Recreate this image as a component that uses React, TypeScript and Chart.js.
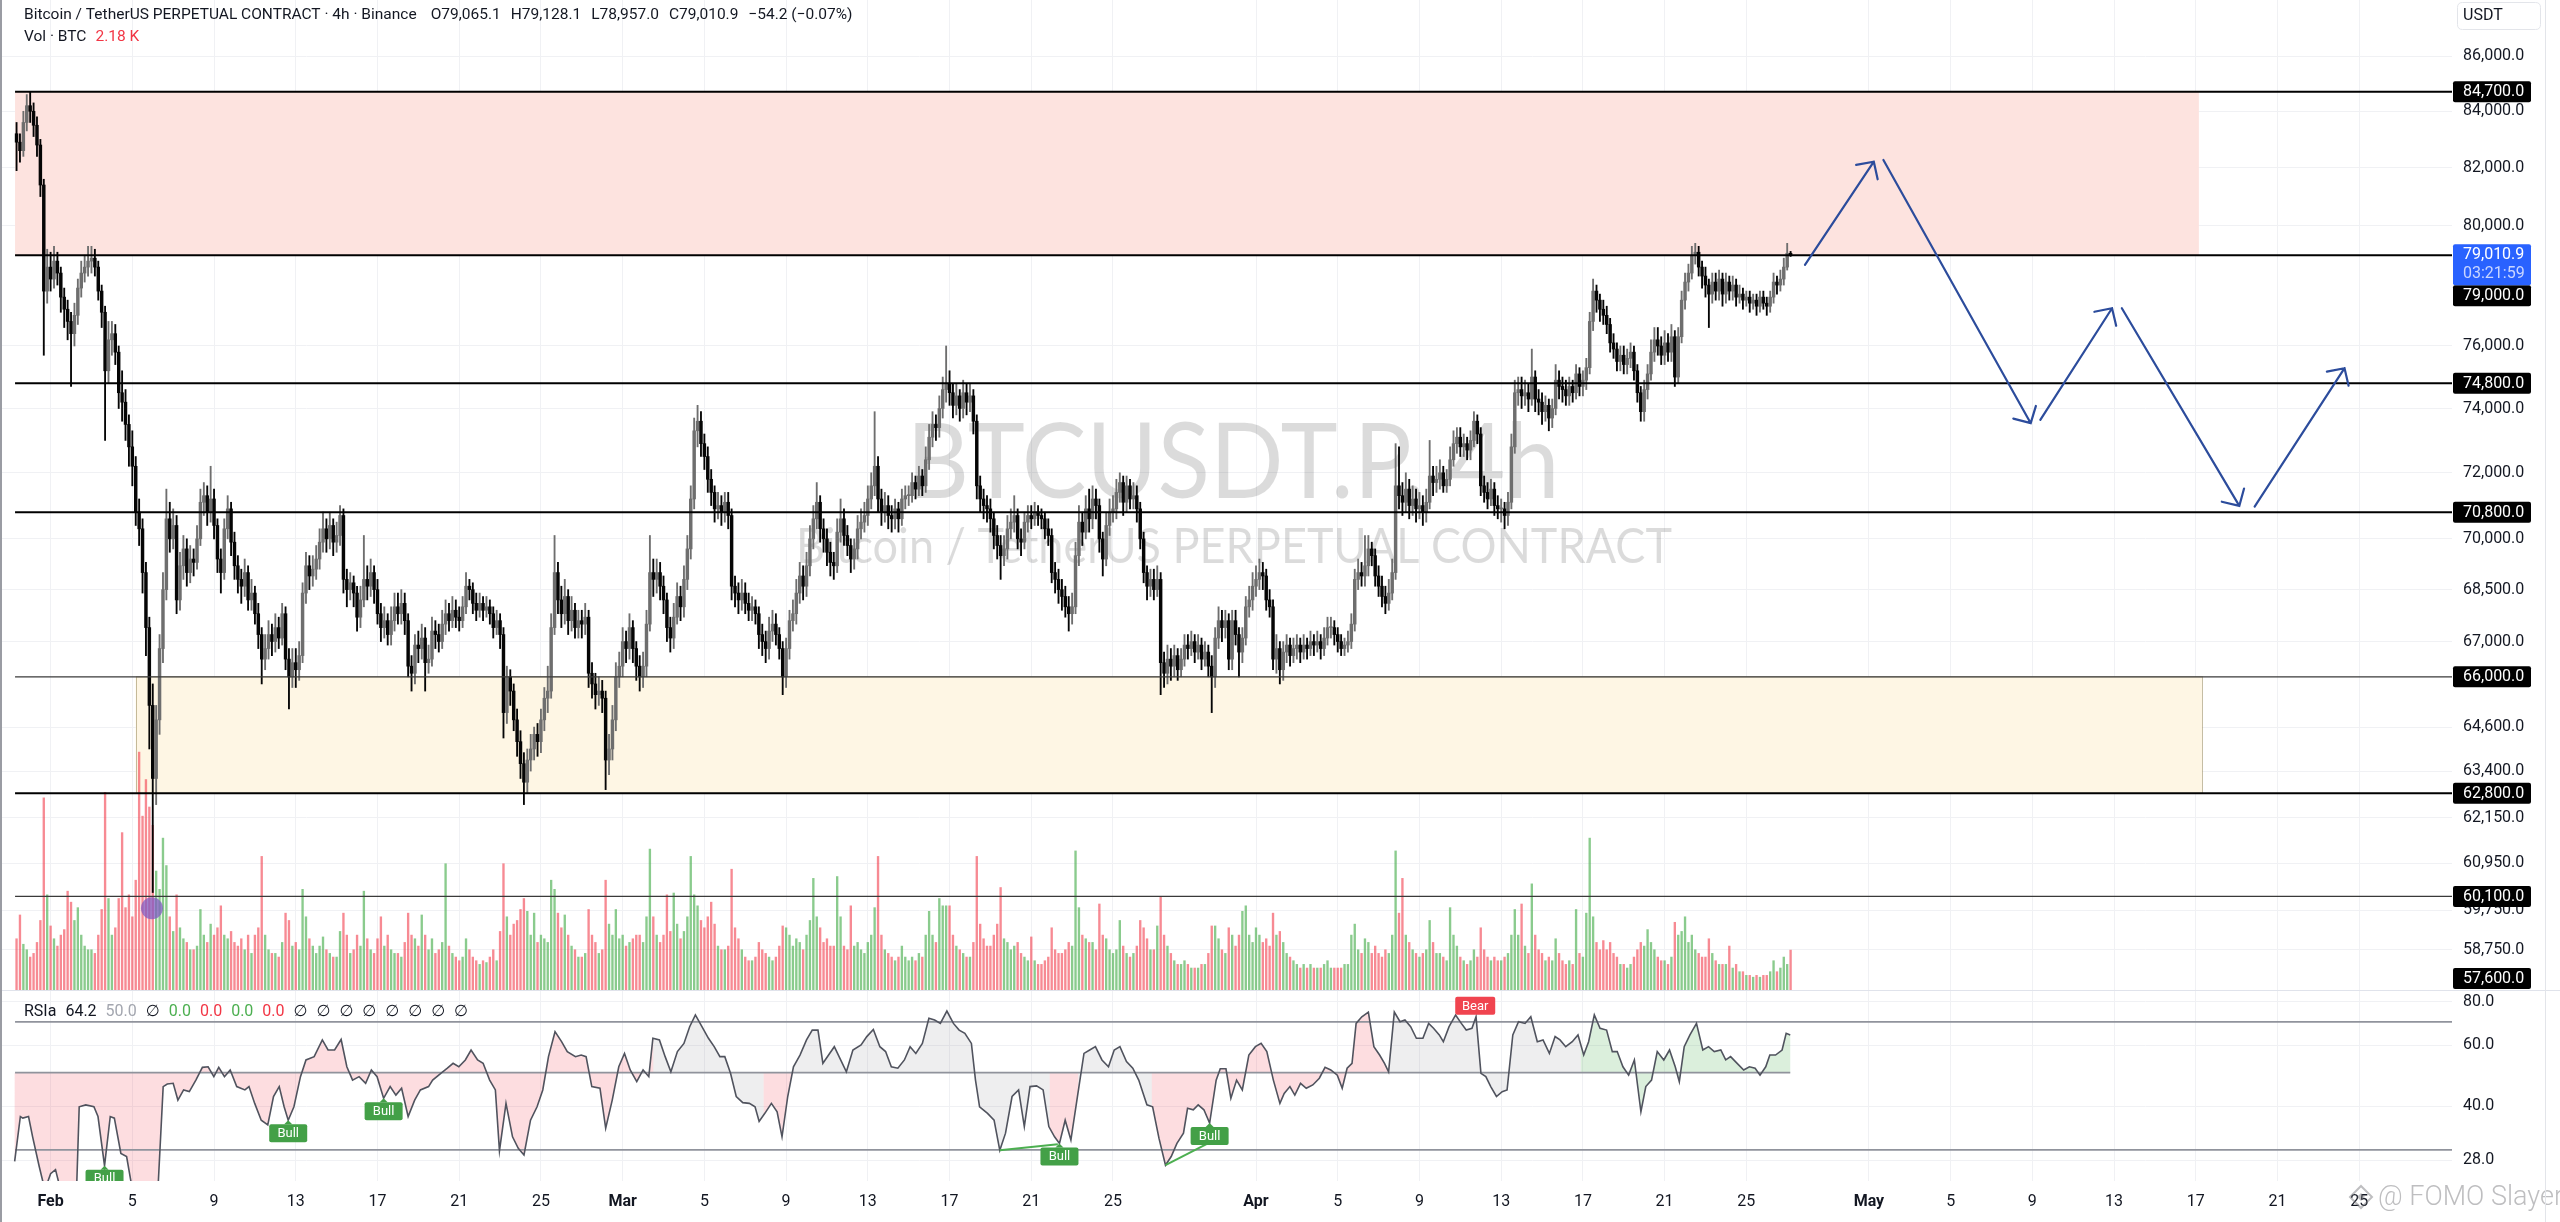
import React, { useEffect, useRef } from 'react';
import { Chart, registerables } from 'chart.js';
Chart.register(...registerables);

// ---------------- DATA ----------------
// 4h candles, prices in hundreds of USDT. Row 0 = Jan 30 (from 08:00), last row = Apr 27.
const FIRST_ROW_DAY = -2; // days relative to Feb 1 00:00
const FIRST_ROW_START_HOUR = 8;
const FIRST_OPEN = 832;

const CLOSES = [
  "829 826 836 842",
  "840 835 828 814 778 786",
  "782 788 784 776 772 768", "764 770 779 784 786 788", "789 786 778 771 752 762", "764 758 745 742 735 728",
  "722 708 703 690 674 652", "632 648 668 685 706 700", "704 682 692 697 690 694", "693 700 711 713 708 712",
  "704 694 690 703 709 699", "692 688 686 690 682 684", "678 672 665 668 672 670", "674 671 678 665 660 664",
  "662 666 684 692 689 691", "694 699 703 700 704 699", "701 707 688 685 687 684", "677 682 688 686 690 685",
  "678 674 676 672 676 680", "678 681 676 663 661 669", "668 671 664 665 673 672", "670 675 678 676 679 677",
  "676 680 686 685 681 679", "681 679 680 678 674 676", "672 650 660 656 648 642", "636 631 637 640 644 642",
  "648 654 656 674 690 682", "678 683 676 679 674 676", "675 677 661 658 655 656", "654 637 640 648 660 663",
  "670 668 674 668 663 660", "663 675 690 688 690 686", "682 674 671 677 683 680", "688 697 712 733 736 729",
  "725 718 714 709 710 708", "711 707 686 684 682 684", "681 679 680 678 672 670", "668 673 675 672 668 660",
  "668 676 678 684 689 686", "692 700 706 711 703 700", "696 693 692 702 706 701", "698 694 697 703 705 707",
  "712 716 722 712 708 710", "707 706 709 706 712 713", "713 717 715 719 716 724", "731 735 734 740 746 748",
  "745 741 744 740 745 742", "744 736 716 712 710 709", "706 701 698 695 697 703", "705 707 700 699 705 707",
  "706 708 707 706 703 701", "690 688 685 683 680 678", "680 695 705 702 709 706", "712 710 700 694 704 708",
  "709 714 717 711 716 712", "713 709 700 690 686 688", "685 688 664 661 665 663", "666 662 665 669 668 670",
  "667 669 665 667 663 660", "671 676 674 676 665 676", "672 667 671 680 682 686",
  "688 690 689 682 680 665", "668 662 667 669 666 668", "669 667 669 668 670 669", "670 668 671 674 674 672",
  "670 668 669 670 675 688", "690 689 692 697 695 689", "686 683 681 684 690 716", "713 711 715 710 712 709",
  "710 708 711 719 717 718", "720 716 718 724 729 731", "728 729 727 730 736 732", "716 714 712 715 710 709",
  "709 707 711 728 745 746", "744 745 743 750 743 742", "739 741 737 740 749 747", "746 744 747 745 751 747",
  "749 753 768 778 775 772", "770 767 761 759 755 757", "754 756 758 752 745 739", "746 751 758 762 760 757",
  "761 758 763 750 763 775", "781 784 790 791 786 783", "780 777 781 778 782 777", "781 778 780 776 777 775",
  "776 774 775 773 776 774", "773 776 781 780 782 786",
  "790.651 790.109",
];

const HIGHS = [
  "836 832 840 846",
  "847 843 838 830 816 792",
  "791 793 791 786 779 775", "771 774 782 788 790 793", "793 792 788 780 773 768", "768 767 760 752 746 738",
  "733 725 712 706 693 677", "658 652 672 690 715 711", "709 707 696 701 700 698", "697 704 715 717 716 722",
  "715 706 697 706 713 711", "702 695 691 694 692 688", "686 681 674 672 676 675", "678 677 681 680 668 668",
  "668 670 687 696 695 695", "698 703 708 706 708 706", "705 710 709 691 690 689", "686 686 701 692 694 692",
  "688 681 680 678 680 684", "684 685 684 678 666 672", "673 675 674 669 677 676", "675 679 682 681 683 682",
  "680 683 690 688 687 684", "684 683 683 682 680 679", "678 674 663 662 658 651", "645 639 640 644 646 647",
  "651 657 663 678 701 693", "686 688 685 683 681 679", "679 681 679 664 661 660", "659 656 644 652 664 667",
  "674 673 678 676 670 666", "667 679 701 694 694 693", "689 684 677 681 687 686", "692 701 716 737 741 739",
  "732 728 721 716 714 713", "714 714 709 689 687 688", "687 684 683 682 680 675", "673 677 679 678 674 670",
  "671 679 682 688 693 692", "696 704 710 717 713 706", "703 699 696 706 712 709", "704 700 700 707 709 711",
  "716 720 739 725 715 714", "713 710 712 711 715 716", "716 720 719 722 721 728", "735 739 738 744 750 760",
  "752 748 748 746 749 748", "748 746 738 719 715 713", "712 708 704 701 701 707", "709 713 709 703 708 710",
  "710 711 710 709 708 706", "703 693 691 688 686 683", "684 699 710 708 713 715", "716 715 712 702 708 712",
  "713 718 720 719 719 718", "717 716 711 702 692 691", "691 692 690 667 669 668", "669 668 668 672 672 673",
  "672 672 671 670 669 666", "674 680 679 679 678 679", "679 674 674 683 686 690",
  "692 694 693 691 685 682", "672 670 670 672 671 671", "672 671 672 671 673 672", "673 672 674 677 677 676",
  "674 672 671 673 678 691", "694 693 701 701 699 697", "692 689 686 688 694 729", "728 717 720 718 716 715",
  "714 713 715 730 722 722", "724 722 721 728 733 734", "734 732 731 733 739 738", "734 719 717 718 717 713",
  "712 711 714 732 749 750", "750 749 748 759 752 746", "745 744 743 743 754 752", "750 749 750 749 754 753",
  "752 756 771 782 780 777", "775 773 769 764 761 760", "760 759 761 760 754 747", "749 754 762 766 766 763",
  "765 764 767 765 766 778", "784 787 793 794 793 788", "786 782 784 784 785 784", "784 783 783 782 780 779",
  "778 778 777 777 778 778", "776 778 784 783 785 789",
  "794 791.281",
];

const LOWS = [
  "819 822 824 833",
  "836 831 824 810 757 774",
  "778 779 780 771 766 762", "747 760 767 776 781 783", "784 783 775 766 730 748", "757 754 740 736 730 722",
  "716 704 698 684 666 640", "602 625 644 664 682 696", "697 678 679 688 686 687", "689 691 698 707 704 705",
  "700 690 684 688 700 695", "688 684 681 683 679 679", "675 668 658 662 665 666", "667 668 669 662 651 657",
  "657 659 664 681 685 686", "688 691 696 696 697 695", "696 698 684 680 682 680", "673 674 680 682 683 681",
  "675 670 671 669 669 673", "675 675 672 660 656 658", "664 665 656 661 663 668", "667 668 672 673 674 674",
  "673 674 678 682 678 676", "677 676 677 675 671 672", "668 643 647 652 645 638", "632 625 628 634 637 638",
  "639 645 650 654 672 678", "674 675 672 673 671 671", "671 672 657 654 651 652", "650 629 633 637 645 657",
  "660 664 665 664 659 656", "657 660 673 683 684 682", "678 670 667 668 675 676", "677 685 694 709 728 725",
  "721 714 710 705 706 704", "705 703 682 680 678 679", "678 676 676 675 668 666", "664 665 670 669 665 655",
  "657 665 673 675 681 682", "683 689 697 703 699 696", "692 689 688 690 699 698", "695 690 691 694 700 702",
  "704 709 713 708 704 705", "703 702 703 702 704 709", "710 711 712 713 713 714", "721 728 730 731 737 742",
  "741 737 738 736 737 738", "739 732 712 708 706 705", "702 697 694 688 692 694", "700 702 697 695 697 702",
  "703 704 704 703 700 698", "687 684 681 679 677 673", "675 678 692 698 700 702", "703 706 696 689 692 701",
  "705 706 711 707 708 709", "709 705 697 687 682 683", "682 683 655 657 658 659", "660 659 660 663 665 666",
  "664 665 662 663 660 650", "657 668 670 671 662 662", "669 660 664 669 677 679",
  "683 685 685 679 677 662", "661 658 659 664 663 664", "665 664 665 665 666 666", "667 665 666 669 671 669",
  "667 666 666 667 668 673", "685 686 686 689 692 686", "683 680 678 679 682 688", "709 707 708 706 707 705",
  "706 704 705 709 713 714", "715 714 714 716 722 726", "725 725 724 724 728 729", "713 711 709 710 707 706",
  "705 703 704 709 726 741", "740 741 739 741 739 738", "735 736 733 734 738 743", "742 741 741 742 743 744",
  "744 746 751 765 771 768", "767 764 758 756 752 752", "751 751 753 749 742 736", "736 743 749 755 757 754",
  "754 755 755 747 748 761", "772 778 782 787 783 779", "776 766 774 775 775 773", "774 775 775 773 774 772",
  "773 771 772 770 771 772", "770 771 774 777 778 780",
  "785 789.57",
];

// volume per candle, in 0.1K BTC
const VOLUMES = [
  "28 41 25 22",
  "18 20 26 38 105 52",
  "35 28 24 30 33 54", "48 38 45 30 24 22", "22 20 30 44 108 50", "30 34 50 86 45 52",
  "40 60 130 95 115 100", "90 65 55 83 68 40", "32 52 34 28 26 22", "22 24 44 30 26 36",
  "30 34 46 30 28 32", "26 24 28 22 30 20", "30 34 73 30 22 20", "20 18 26 42 38 24",
  "26 22 55 40 28 24", "20 24 29 22 20 18", "18 32 42 30 20 22", "30 24 54 28 22 20",
  "28 40 24 30 22 20", "20 18 26 42 30 28", "24 41 30 22 28 20", "22 26 69 24 20 18",
  "16 18 28 22 18 16", "14 16 15 18 22 16", "32 69 40 30 36 38", "44 50 43 30 42 26",
  "30 28 26 60 55 42", "34 41 30 24 22 18", "18 20 44 30 26 20", "22 60 36 30 44 28",
  "30 24 26 28 30 30", "26 40 77 40 30 26", "30 52 32 53 36 28", "32 40 73 52 46 38",
  "34 40 48 36 24 22", "22 24 66 34 28 22", "18 16 16 18 26 22", "20 18 16 18 24 35",
  "34 30 24 28 26 22", "30 38 61 40 34 26", "28 24 24 62 40 24", "22 46 24 26 22 20",
  "26 30 45 73 30 22", "20 18 16 18 24 18", "16 18 16 20 18 30", "43 30 26 50 46 46",
  "46 30 24 22 20 18", "18 26 73 36 28 24", "24 30 36 56 28 26", "22 24 26 20 18 16",
  "29 16 14 14 16 18", "34 22 20 20 22 26", "24 76 45 30 28 26", "26 22 47 30 28 22",
  "20 22 38 24 20 18", "20 24 38 34 28 22", "22 35 51 30 24 20", "16 14 14 16 14 12",
  "12 12 14 14 20 35", "35 28 22 20 34 30", "24 30 43 46 30 26",
  "34 30 26 28 24 42", "30 32 26 20 18 16", "14 12 14 12 14 12", "12 12 14 16 12 12",
  "12 12 14 14 30 36", "22 20 28 26 20 24", "20 18 22 20 30 76", "42 61 30 26 22 20",
  "18 20 22 38 26 20", "20 18 16 45 30 24", "18 16 14 16 22 18", "34 22 18 16 18 16",
  "16 18 20 30 44 30", "47 24 20 58 30 22", "20 16 18 16 28 20", "16 14 16 14 44 20",
  "18 42 83 40 26 22", "27 22 26 20 18 14", "14 12 14 18 22 26", "24 33 26 22 18 16",
  "16 14 18 37 30 32", "40 26 30 22 20 18", "18 28 20 16 14 14", "14 24 12 14 10 10",
  "8 8 7 8 7 8", "8 10 16 10 12 18",
  "14 21.8",
];

// RSI line readings: [day, value]
const RSI_POINTS: number[][] = [
  [-1.76,27.8],[-1.48,37.4],[-1.36,37.0],[-1.08,37.4],[-0.88,32.7],[-0.56,26.9],[-0.28,23.0],[0.0,25.6],[0.24,26.3],
  [0.45,23.5],[0.7,19.5],[1.0,18.0],[1.25,21.0],[1.4,39.9],[1.72,40.4],[2.12,39.9],[2.32,37.4],[2.64,27.0],[2.92,37.4],
  [3.12,37.0],[3.44,29.3],[3.72,28.7],[3.95,24.0],[4.2,21.0],[4.5,17.5],[4.8,14.0],[5.0,13.5],[5.2,20.0],[5.51,45.6],
  [5.71,46.4],[6.0,46.6],[6.23,41.7],[6.51,44.6],[6.79,44.1],[7.11,47.6],[7.43,51.8],[7.71,52.0],[7.99,48.7],[8.23,51.8],
  [8.51,48.7],[8.79,50.9],[9.11,45.6],[9.51,44.6],[9.71,45.6],[9.99,40.8],[10.31,36.5],[10.63,35.4],[10.91,42.7],
  [11.19,45.6],[11.43,39.9],[11.63,36.5],[11.91,39.9],[12.23,48.7],[12.5,54.4],[12.9,55.6],[13.3,62.1],[13.58,58.1],
  [13.9,58.1],[14.22,62.3],[14.5,52.0],[14.78,47.6],[15.1,48.7],[15.42,46.6],[15.7,50.9],[15.98,48.7],[16.3,42.2],
  [16.62,45.6],[16.9,43.1],[17.18,45.1],[17.5,37.4],[17.82,41.7],[18.1,44.6],[18.5,45.6],[18.7,47.6],[19.1,49.8],
  [19.42,51.5],[19.7,53.2],[19.98,52.0],[20.3,54.4],[20.58,58.1],[20.9,54.4],[21.17,53.2],[21.49,47.6],[21.77,44.6],
  [21.97,29.8],[22.29,40.8],[22.61,32.7],[22.89,30.3],[23.17,29.0],[23.49,36.5],[23.81,39.9],[24.09,44.6],[24.37,55.6],
  [24.69,65.6],[25.01,61.4],[25.29,57.5],[25.69,55.6],[25.97,56.2],[26.21,55.6],[26.49,45.6],[26.89,45.1],[27.17,34.6],
  [27.49,41.7],[27.81,52.0],[28.09,56.8],[28.37,50.9],[28.69,47.1],[29.0,50.9],[29.28,48.7],[29.48,62.8],[29.8,62.1],
  [30.08,55.6],[30.36,50.3],[30.68,57.5],[31.0,60.7],[31.28,67.8],[31.56,73.3],[31.88,67.8],[32.2,62.8],[32.48,59.4],
  [32.76,55.6],[33.0,55.6],[33.28,49.8],[33.56,42.7],[33.88,41.0],[34.2,40.8],[34.48,39.9],[34.68,36.2],[34.96,38.2],
  [35.28,40.8],[35.56,38.6],[35.8,32.7],[36.08,42.7],[36.36,52.0],[36.68,56.2],[37.0,62.1],[37.28,66.3],[37.56,66.3],
  [37.8,53.2],[38.08,56.2],[38.36,59.4],[38.67,54.4],[38.95,50.3],[39.27,58.1],[39.67,60.1],[39.95,63.5],[40.27,66.6],
  [40.59,59.4],[40.87,57.5],[41.15,52.0],[41.47,51.5],[41.79,54.4],[42.07,59.4],[42.35,56.8],[42.67,60.7],[42.99,71.7],
  [43.27,70.9],[43.55,69.3],[43.87,75.2],[44.19,69.3],[44.47,66.3],[44.75,64.9],[45.07,60.7],[45.27,47.6],[45.47,39.9],
  [45.86,38.2],[46.18,36.5],[46.46,29.9],[46.74,33.5],[47.06,42.7],[47.38,44.6],[47.66,35.0],[47.94,45.6],[48.26,45.8],
  [48.58,44.6],[48.86,35.0],[49.14,32.7],[49.38,31.3],[49.66,36.5],[49.94,32.0],[50.26,42.7],[50.58,56.8],[50.86,58.1],
  [51.14,59.4],[51.46,54.4],[51.78,52.0],[52.06,58.1],[52.34,59.4],[52.66,53.8],[52.97,51.5],[53.26,47.6],[53.66,40.4],
  [53.94,39.9],[54.25,32.4],[54.57,27.1],[54.85,28.7],[55.13,31.3],[55.45,33.5],[55.65,39.5],[55.93,39.1],[56.17,40.4],
  [56.45,39.1],[56.73,35.8],[57.05,47.6],[57.25,51.3],[57.53,51.3],[57.77,42.2],[58.05,47.6],[58.33,44.6],[58.65,56.2],
  [58.97,59.4],[59.25,60.7],[59.53,57.5],[59.85,47.6],[60.17,40.8],[60.38,43.6],[60.66,45.6],[60.9,43.1],[61.18,46.6],
  [61.46,45.1],[61.78,46.1],[62.1,48.2],[62.38,51.8],[62.66,50.9],[62.98,49.2],[63.22,45.1],[63.46,51.5],[63.7,53.2],
  [63.9,69.3],[64.18,72.4],[64.5,74.7],[64.77,59.4],[65.05,56.2],[65.29,53.2],[65.49,50.3],[65.77,74.7],[66.05,70.1],
  [66.29,70.9],[66.57,67.8],[66.85,62.8],[67.17,62.8],[67.45,69.3],[67.69,67.1],[67.97,64.2],[68.17,61.4],[68.45,67.8],
  [68.77,73.3],[69.05,69.3],[69.29,66.3],[69.57,67.1],[69.77,72.4],[70.01,49.8],[70.25,48.7],[70.49,45.6],[70.77,42.7],
  [71.05,44.1],[71.29,44.6],[71.57,64.2],[71.85,70.1],[72.17,69.3],[72.45,72.4],[72.77,61.4],[73.05,62.1],[73.36,56.8],
  [73.64,63.5],[73.88,62.1],[74.16,59.4],[74.48,61.4],[74.76,64.2],[75.04,56.2],[75.28,61.4],[75.56,73.3],[75.84,67.1],
  [76.16,66.3],[76.44,57.5],[76.68,57.5],[76.96,52.0],[77.24,49.2],[77.52,54.4],[77.84,38.6],[78.08,45.6],[78.36,47.6],
  [78.64,57.5],[78.96,54.4],[79.24,58.1],[79.52,52.0],[79.72,47.1],[79.96,59.4],[80.24,64.2],[80.56,69.3],[80.87,58.1],
  [81.15,59.4],[81.43,57.5],[81.75,58.1],[81.99,54.4],[82.23,55.6],[82.55,53.2],[82.87,50.9],[83.15,52.0],[83.43,51.5],
  [83.67,49.2],[83.95,52.0],[84.15,56.2],[84.43,56.2],[84.75,58.1],[84.95,64.9],[85.15,64.2],
];

// RSI fill regimes (between RSI and the 50 line)
const REGIME_FROM = [-1.8, 29.5, 34.9, 36.3, 48.9, 50.3, 53.9, 65.5, 74.9];
const REGIME_TO = [29.5, 34.9, 36.3, 48.9, 50.3, 53.9, 65.5, 74.9, 85.3];
const REGIME_KIND = ['bear', 'neutral', 'bear', 'neutral', 'bear', 'neutral', 'bear', 'neutral', 'bull'];
const RSI_LEVELS = [70, 50, 30];

const BULL_DAYS = [2.64, 11.63, 16.3, 49.38, 56.73];
const BULL_VALUES = [27.0, 36.5, 42.2, 31.3, 35.8];
const BEAR_DAYS = [69.73];
const BEAR_VALUES = [72.4];
const DIV_FROM_DAYS = [46.46, 54.57];
const DIV_FROM_VALUES = [29.9, 27.1];
const DIV_TO_DAYS = [49.3, 56.6];
const DIV_TO_VALUES = [31.1, 31.2];

// horizontal levels drawn on the price pane
const LEVELS = [84700, 79000, 74800, 70800, 66000, 62800, 60100];
const THIN_LEVELS = [66000, 60100];
const AXIS_MARKS = [84700, 79000, 74800, 70800, 66000, 62800, 60100, 57600];
const LEVEL_FROM_DAY = -1.74;

// zones
const ZONE_FROM = [-1.74, 4.166];
const ZONE_TO = [105.15, 105.3];
const ZONE_TOP = [84700, 66000];
const ZONE_BOTTOM = [79000, 62800];

// projection arrows
const ARROW_FROM_DAYS = [85.87, 89.71, 97.39, 101.38, 107.88];
const ARROW_FROM_PRICES = [78672, 82273, 73642, 77233, 70970];
const ARROW_TO_DAYS = [89.24, 96.92, 100.9, 107.13, 112.28];
const ARROW_TO_PRICES = [82213, 73539, 77233, 70991, 75284];

const MARKER_DAY = 4.96;
const MARKER_PRICE = 59800;

const PRICE_TICKS = [86000, 84000, 82000, 80000, 76000, 74000, 72000, 70000, 68500, 67000, 64600, 63400, 62150, 60950, 59750, 58750];
const RSI_TICKS = [80, 60, 40, 28];
const TICK_DAYS = [0, 4, 8, 12, 16, 20, 24, 28, 32, 36, 40, 44, 48, 52, 59, 63, 67, 71, 75, 79, 83, 89, 93, 97, 101, 105, 109, 113];
const TICK_LABELS = ['Feb', '5', '9', '13', '17', '21', '25', 'Mar', '5', '9', '13', '17', '21', '25', 'Apr', '5', '9', '13', '17', '21', '25', 'May', '5', '9', '13', '17', '21', '25'];
const MONTHS = ['Feb', 'Mar', 'Apr', 'May'];

const HEADER_TITLE = 'Bitcoin / TetherUS PERPETUAL CONTRACT · 4h · Binance';
const HEADER_OHLC = ['O79,065.1', 'H79,128.1', 'L78,957.0', 'C79,010.9', '−54.2 (−0.07%)'];
const VOL_TITLE = 'Vol · BTC';
const VOL_VALUE = '2.18 K';
const LAST_PRICE = 79010.9;
const COUNTDOWN = '03:21:59';
const RSI_LEGEND = ['RSIa', '64.2', '50.0', '∅', '0.0', '0.0', '0.0', '0.0', '∅', '∅', '∅', '∅', '∅', '∅', '∅', '∅'];
const RSI_LEGEND_KIND = ['t', 't', 'g', 't', 'up', 'dn', 'up', 'dn', 't', 't', 't', 't', 't', 't', 't', 't'];
const WATERMARK_1 = 'BTCUSDT.P, 4h';
const WATERMARK_2 = 'Bitcoin / TetherUS PERPETUAL CONTRACT';
const CREDIT = '@ FOMO Slayer';

// ---------------- LAYOUT / STYLE ----------------
const W = 2560;
const H_PRICE = 990;
const H_RSI = 232;
const AXIS_W = 108;
const X_MIN = -2.4768;
const X_MAX = 117.54;
const P_MIN = 57749;
const P_MAX = 88082;
const R_MIN = 24.4;
const R_MAX = 86.46;
const FONT = "Roboto, 'DejaVu Sans', sans-serif";
const TEXT = '#131722';
const GRID = '#f0f1f4';
const UP = '#6e6e6e';
const DOWN = '#050505';

type Candle = { t: number; o: number; h: number; l: number; c: number; v: number };

function buildCandles(): Candle[] {
  const out: Candle[] = [];
  let prev = FIRST_OPEN * 100;
  CLOSES.forEach((row, r) => {
    const cs = row.split(' ').map(Number);
    const hs = HIGHS[r].split(' ').map(Number);
    const ls = LOWS[r].split(' ').map(Number);
    const vs = VOLUMES[r].split(' ').map(Number);
    const startHour = r === 0 ? FIRST_ROW_START_HOUR : 0;
    cs.forEach((c, j) => {
      const t = FIRST_ROW_DAY + r + (startHour + 4 * j) / 24;
      const o = prev;
      const close = c * 100;
      const h = Math.max(hs[j] * 100, o, close);
      const l = Math.min(ls[j] * 100, o, close);
      out.push({ t, o, h, l, c: close, v: vs[j] / 10 });
      prev = close;
    });
  });
  return out;
}

const fmtPrice = (v: number) => v.toLocaleString('en-US', { minimumFractionDigits: 1, maximumFractionDigits: 1 });
const labelFor = (v: number) => {
  const i = TICK_DAYS.indexOf(v);
  return i >= 0 ? TICK_LABELS[i] : '';
};

function roundRect(ctx: CanvasRenderingContext2D, x: number, y: number, w: number, h: number, r: number) {
  ctx.beginPath();
  ctx.moveTo(x + r, y);
  ctx.lineTo(x + w - r, y);
  ctx.quadraticCurveTo(x + w, y, x + w, y + r);
  ctx.lineTo(x + w, y + h - r);
  ctx.quadraticCurveTo(x + w, y + h, x + w - r, y + h);
  ctx.lineTo(x + r, y + h);
  ctx.quadraticCurveTo(x, y + h, x, y + h - r);
  ctx.lineTo(x, y + r);
  ctx.quadraticCurveTo(x, y, x + r, y);
  ctx.closePath();
}

function drawFitted(ctx: CanvasRenderingContext2D, text: string, font: string, cx: number, by: number, width: number) {
  ctx.font = font;
  const w = ctx.measureText(text).width;
  ctx.save();
  ctx.translate(cx, by);
  ctx.scale(width / w, 1);
  ctx.textAlign = 'center';
  ctx.textBaseline = 'alphabetic';
  ctx.fillText(text, 0, 0);
  ctx.restore();
}

function drawArrow(ctx: CanvasRenderingContext2D, x0: number, y0: number, x1: number, y1: number) {
  const ang = Math.atan2(y1 - y0, x1 - x0);
  const len = 18;
  const spread = (46 * Math.PI) / 180;
  ctx.beginPath();
  ctx.moveTo(x0, y0);
  ctx.lineTo(x1, y1);
  ctx.moveTo(x1 - len * Math.cos(ang - spread), y1 - len * Math.sin(ang - spread));
  ctx.lineTo(x1, y1);
  ctx.lineTo(x1 - len * Math.cos(ang + spread), y1 - len * Math.sin(ang + spread));
  ctx.stroke();
}

function drawBorders(ctx: CanvasRenderingContext2D, h: number) {
  ctx.save();
  ctx.fillStyle = '#9a9ca3';
  ctx.fillRect(0, 0, 2, h);
  ctx.fillStyle = '#e3e5ea';
  ctx.fillRect(2545, 0, 1, h);
  ctx.restore();
}

const xScale = (showTicks: boolean) => ({
  type: 'linear',
  min: X_MIN,
  max: X_MAX,
  bounds: 'data',
  offset: false,
  afterBuildTicks: (s: any) => { s.ticks = TICK_DAYS.map((v) => ({ value: v })); },
  grid: { color: GRID, drawTicks: false, lineWidth: 1, offset: false },
  border: { display: false },
  ticks: {
    display: showTicks,
    autoSkip: false,
    maxRotation: 0,
    padding: 11,
    color: TEXT,
    callback: (v: any) => labelFor(Number(v)),
    font: (c: any) => ({ family: FONT, size: 16, weight: MONTHS.includes(labelFor(c.tick ? c.tick.value : NaN)) ? 'bold' : 'normal' }),
  },
  afterFit: (s: any) => { s.height = showTicks ? 41 : 0; s.paddingLeft = 0; s.paddingRight = 0; },
});

// ---------------- PLUGINS ----------------
const pricePanePlugin = {
  id: 'pricePane',
  beforeDatasetsDraw(chart: any) {
    const { ctx, chartArea: ca, scales } = chart;
    const x = scales.x, y = scales.y;
    ctx.save();
    ctx.beginPath();
    ctx.rect(ca.left, ca.top, ca.right - ca.left, ca.bottom - ca.top);
    ctx.clip();
    ZONE_FROM.forEach((from, i) => {
      const x0 = x.getPixelForValue(from), x1 = x.getPixelForValue(ZONE_TO[i]);
      const y0 = y.getPixelForValue(ZONE_TOP[i]), y1 = y.getPixelForValue(ZONE_BOTTOM[i]);
      ctx.fillStyle = i === 0 ? '#fde3df' : '#fef6e4';
      ctx.fillRect(x0, y0, x1 - x0, y1 - y0);
      if (i === 1) {
        ctx.strokeStyle = 'rgba(150,135,90,0.55)';
        ctx.lineWidth = 1;
        ctx.strokeRect(Math.round(x0) + 0.5, y0, Math.round(x1 - x0), y1 - y0);
      }
    });
    const cx = (ca.left + ca.right) / 2;
    const cy = (ca.top + ca.bottom) / 2;
    ctx.fillStyle = 'rgba(0,0,0,0.14)';
    drawFitted(ctx, WATERMARK_1, `400 104px Lato, ${FONT}`, cx + 7, cy + 3, 653);
    drawFitted(ctx, WATERMARK_2, `400 49px Lato, ${FONT}`, cx + 8, cy + 68, 876);
    ctx.restore();
  },
  afterDatasetsDraw(chart: any) {
    const { ctx, chartArea: ca, scales } = chart;
    const x = scales.x, y = scales.y;
    ctx.save();
    ctx.beginPath();
    ctx.rect(ca.left, ca.top, ca.right - ca.left, ca.bottom - ca.top);
    ctx.clip();
    const xs = x.getPixelForValue(LEVEL_FROM_DAY);
    LEVELS.forEach((p) => {
      const thin = THIN_LEVELS.includes(p);
      const yy = y.getPixelForValue(p);
      ctx.strokeStyle = thin ? '#3a3a3a' : '#000000';
      ctx.lineWidth = thin ? 1.3 : 2;
      ctx.beginPath();
      ctx.moveTo(xs, yy);
      ctx.lineTo(ca.right, yy);
      ctx.stroke();
    });
    ctx.strokeStyle = '#2c4c9c';
    ctx.lineWidth = 2.2;
    ctx.lineCap = 'round';
    ARROW_FROM_DAYS.forEach((d, i) => {
      drawArrow(ctx, x.getPixelForValue(d), y.getPixelForValue(ARROW_FROM_PRICES[i]),
        x.getPixelForValue(ARROW_TO_DAYS[i]), y.getPixelForValue(ARROW_TO_PRICES[i]));
    });
    ctx.fillStyle = 'rgba(126,87,194,0.72)';
    ctx.beginPath();
    ctx.arc(x.getPixelForValue(MARKER_DAY), y.getPixelForValue(MARKER_PRICE), 11, 0, Math.PI * 2);
    ctx.fill();
    ctx.restore();
  },
  afterDraw(chart: any) {
    const { ctx, chartArea: ca, scales } = chart;
    const y = scales.y;
    ctx.save();
    // header
    ctx.textAlign = 'left';
    ctx.textBaseline = 'middle';
    ctx.font = `15.5px ${FONT}`;
    ctx.fillStyle = TEXT;
    ctx.fillText(HEADER_TITLE, 24, 15);
    let hx = 24 + ctx.measureText(HEADER_TITLE).width + 14;
    HEADER_OHLC.forEach((t) => {
      ctx.fillText(t, hx, 15);
      hx += ctx.measureText(t).width + 10;
    });
    ctx.fillText(VOL_TITLE, 24, 37);
    const vx = 24 + ctx.measureText(VOL_TITLE).width + 9;
    ctx.fillStyle = '#f23645';
    ctx.fillText(VOL_VALUE, vx, 37);

    // axis marks
    const bx = ca.right + 1;
    const bw = 78;
    const bh = 21;
    const yBlue = y.getPixelForValue(LAST_PRICE);
    const blueTop = yBlue - 10.5;
    const blueBottom = blueTop + 41;
    ctx.font = `16px ${FONT}`;
    AXIS_MARKS.forEach((p) => {
      let top = y.getPixelForValue(p) - bh / 2;
      if (top < blueBottom && top + bh > blueTop) top = blueBottom;
      if (top + bh > ca.bottom - 1) top = ca.bottom - 1 - bh;
      ctx.fillStyle = '#000000';
      roundRect(ctx, bx, top, bw, bh, 2);
      ctx.fill();
      ctx.fillStyle = '#ffffff';
      ctx.fillText(fmtPrice(p), bx + 10, top + bh / 2 + 0.5);
    });
    ctx.fillStyle = '#2962ff';
    roundRect(ctx, bx, blueTop, bw, 41, 2);
    ctx.fill();
    ctx.fillStyle = '#ffffff';
    ctx.fillText(fmtPrice(LAST_PRICE), bx + 10, blueTop + 11);
    ctx.fillStyle = '#c9d6ff';
    ctx.fillText(COUNTDOWN, bx + 10, blueTop + 30);

    // currency box
    ctx.strokeStyle = '#e3e5ea';
    ctx.lineWidth = 1;
    roundRect(ctx, 2457.5, 2.5, 83, 27, 5);
    ctx.stroke();
    ctx.fillStyle = TEXT;
    ctx.fillText('USDT', 2463, 16);
    ctx.restore();
    drawBorders(ctx, H_PRICE);
  },
};

const REGIME_COLORS: any = {
  bear: 'rgba(242,54,69,0.17)',
  neutral: 'rgba(120,123,134,0.13)',
  bull: 'rgba(76,175,80,0.2)',
};

const rsiPanePlugin = {
  id: 'rsiPane',
  beforeDatasetsDraw(chart: any) {
    const { ctx, chartArea: ca, scales } = chart;
    const x = scales.x, y = scales.y;
    const pts = RSI_POINTS.map(([d, v]) => [x.getPixelForValue(d), y.getPixelForValue(v)]);
    const y50 = y.getPixelForValue(50);
    ctx.save();
    ctx.beginPath();
    ctx.rect(ca.left, ca.top, ca.right - ca.left, ca.bottom - ca.top);
    ctx.clip();
    REGIME_FROM.forEach((from, i) => {
      const x0 = x.getPixelForValue(from), x1 = x.getPixelForValue(REGIME_TO[i]);
      ctx.save();
      ctx.beginPath();
      ctx.rect(x0, ca.top, x1 - x0, ca.bottom - ca.top);
      ctx.clip();
      ctx.beginPath();
      ctx.moveTo(pts[0][0], y50);
      pts.forEach((p) => ctx.lineTo(p[0], p[1]));
      ctx.lineTo(pts[pts.length - 1][0], y50);
      ctx.closePath();
      ctx.fillStyle = REGIME_COLORS[REGIME_KIND[i]];
      ctx.fill();
      ctx.restore();
    });
    const xs = x.getPixelForValue(LEVEL_FROM_DAY);
    ctx.strokeStyle = '#90939c';
    ctx.lineWidth = 1.8;
    RSI_LEVELS.forEach((lv) => {
      const yy = y.getPixelForValue(lv);
      ctx.beginPath();
      ctx.moveTo(xs, yy);
      ctx.lineTo(lv === 50 ? pts[pts.length - 1][0] : ca.right, yy);
      ctx.stroke();
    });
    ctx.restore();
  },
  afterDatasetsDraw(chart: any) {
    const { ctx, chartArea: ca, scales } = chart;
    const x = scales.x, y = scales.y;
    ctx.save();
    ctx.beginPath();
    ctx.rect(ca.left, ca.top, ca.right - ca.left, ca.bottom - ca.top);
    ctx.clip();
    ctx.strokeStyle = '#4caf50';
    ctx.lineWidth = 2;
    DIV_FROM_DAYS.forEach((d, i) => {
      ctx.beginPath();
      ctx.moveTo(x.getPixelForValue(d), y.getPixelForValue(DIV_FROM_VALUES[i]));
      ctx.lineTo(x.getPixelForValue(DIV_TO_DAYS[i]), y.getPixelForValue(DIV_TO_VALUES[i]));
      ctx.stroke();
    });
    ctx.font = `13px ${FONT}`;
    ctx.textAlign = 'center';
    ctx.textBaseline = 'middle';
    const lw = 38, lh = 18;
    BULL_DAYS.forEach((d, i) => {
      const cx = x.getPixelForValue(d);
      const top = y.getPixelForValue(BULL_VALUES[i]) + 4;
      ctx.fillStyle = '#43a047';
      roundRect(ctx, cx - lw / 2, top, lw, lh, 2);
      ctx.fill();
      ctx.beginPath();
      ctx.moveTo(cx - 4, top);
      ctx.lineTo(cx, top - 4);
      ctx.lineTo(cx + 4, top);
      ctx.fill();
      ctx.fillStyle = '#ffffff';
      ctx.fillText('Bull', cx, top + lh / 2 + 0.5);
    });
    BEAR_DAYS.forEach((d, i) => {
      const cx = x.getPixelForValue(d);
      const bottom = y.getPixelForValue(BEAR_VALUES[i]) - 2;
      ctx.fillStyle = '#f0444f';
      roundRect(ctx, cx - lw / 2 - 1, bottom - lh, lw + 2, lh, 2);
      ctx.fill();
      ctx.fillStyle = '#ffffff';
      ctx.fillText('Bear', cx, bottom - lh / 2 + 0.5);
    });
    ctx.restore();
  },
  afterDraw(chart: any) {
    const { ctx } = chart;
    ctx.save();
    ctx.fillStyle = '#e0e3eb';
    ctx.fillRect(0, 0, W, 1);
    ctx.font = `16px ${FONT}`;
    ctx.textAlign = 'left';
    ctx.textBaseline = 'middle';
    let lx = 24;
    RSI_LEGEND.forEach((t, i) => {
      const k = RSI_LEGEND_KIND[i];
      ctx.fillStyle = k === 'up' ? '#4caf50' : k === 'dn' ? '#f23645' : k === 'g' ? '#a3a6af' : TEXT;
      ctx.fillText(t, lx, 22);
      lx += ctx.measureText(t).width + 9;
    });
    // credit watermark
    ctx.fillStyle = 'rgba(110,110,115,0.45)';
    ctx.strokeStyle = 'rgba(110,110,115,0.45)';
    ctx.lineWidth = 2;
    const lgx = 2361, lgy = 207;
    ctx.beginPath();
    ctx.moveTo(lgx, lgy - 11); ctx.lineTo(lgx + 11, lgy); ctx.lineTo(lgx, lgy + 11); ctx.lineTo(lgx - 11, lgy); ctx.closePath();
    ctx.stroke();
    ctx.beginPath();
    ctx.moveTo(lgx, lgy - 4); ctx.lineTo(lgx + 4, lgy); ctx.lineTo(lgx, lgy + 4); ctx.lineTo(lgx - 4, lgy); ctx.closePath();
    ctx.fill();
    ctx.font = `300 27px ${FONT}`;
    ctx.fillText(CREDIT, 2378, lgy + 1);
    ctx.restore();
    drawBorders(ctx, H_RSI);
  },
};

// ---------------- COMPONENT ----------------
export default function App() {
  const priceRef = useRef<HTMLCanvasElement>(null);
  const rsiRef = useRef<HTMLCanvasElement>(null);

  useEffect(() => {
    document.body.style.margin = '0';
    document.body.style.overflow = 'hidden';
    document.body.style.background = '#ffffff';
    const candles = buildCandles();
    const up = (c: Candle) => c.c >= c.o;

    const priceChart = new Chart(priceRef.current as HTMLCanvasElement, {
      type: 'bar',
      data: {
        datasets: [
          {
            label: 'body',
            data: candles.map((c) => ({ x: c.t, y: [c.o, c.c] })),
            backgroundColor: candles.map((c) => (up(c) ? UP : DOWN)),
            barThickness: 2.8,
            minBarLength: 1,
            grouped: false,
            borderWidth: 0,
            yAxisID: 'y',
            order: 1,
          },
          {
            label: 'wick',
            data: candles.map((c) => ({ x: c.t, y: [c.l, c.h] })),
            backgroundColor: candles.map((c) => (up(c) ? UP : DOWN)),
            barThickness: 1.2,
            grouped: false,
            borderWidth: 0,
            yAxisID: 'y',
            order: 2,
          },
          {
            label: 'volume',
            data: candles.map((c) => ({ x: c.t, y: c.v })),
            backgroundColor: candles.map((c) => (up(c) ? 'rgba(76,175,80,0.65)' : 'rgba(242,54,69,0.58)')),
            barThickness: 1.7,
            grouped: false,
            borderWidth: 0,
            yAxisID: 'yVol',
            order: 3,
          },
        ] as any,
      },
      options: {
        responsive: false,
        animation: false,
        devicePixelRatio: 1,
        events: [],
        layout: { padding: 0 },
        plugins: { legend: { display: false }, tooltip: { enabled: false } },
        scales: {
          x: xScale(false) as any,
          y: {
            type: 'logarithmic',
            position: 'right',
            min: P_MIN,
            max: P_MAX,
            bounds: 'data',
            afterBuildTicks: (s: any) => { s.ticks = PRICE_TICKS.map((v) => ({ value: v })); },
            grid: { color: GRID, drawTicks: false },
            border: { display: false },
            ticks: {
              autoSkip: false,
              padding: 11,
              color: TEXT,
              font: { family: FONT, size: 16 },
              callback: (v: any) => fmtPrice(Number(v)),
            },
            afterFit: (s: any) => { s.width = AXIS_W; s.paddingTop = 0; s.paddingBottom = 0; },
          } as any,
          yVol: { type: 'linear', display: false, min: 0, max: 54.1 },
        },
      },
      plugins: [pricePanePlugin],
    } as any);

    const rsiChart = new Chart(rsiRef.current as HTMLCanvasElement, {
      type: 'line',
      data: {
        datasets: [
          {
            label: 'RSI',
            data: RSI_POINTS.map(([d, v]) => ({ x: d, y: v })),
            borderColor: '#50535e',
            borderWidth: 1.6,
            pointRadius: 0,
            tension: 0,
            fill: false,
          },
        ],
      },
      options: {
        responsive: false,
        animation: false,
        devicePixelRatio: 1,
        events: [],
        layout: { padding: 0 },
        plugins: { legend: { display: false }, tooltip: { enabled: false } },
        scales: {
          x: xScale(true) as any,
          y: {
            type: 'logarithmic',
            position: 'right',
            min: R_MIN,
            max: R_MAX,
            bounds: 'data',
            afterBuildTicks: (s: any) => { s.ticks = RSI_TICKS.map((v) => ({ value: v })); },
            grid: { color: GRID, drawTicks: false },
            border: { display: false },
            ticks: {
              autoSkip: false,
              padding: 11,
              color: TEXT,
              font: { family: FONT, size: 16 },
              callback: (v: any) => Number(v).toFixed(1),
            },
            afterFit: (s: any) => { s.width = AXIS_W; s.paddingTop = 0; s.paddingBottom = 0; },
          } as any,
        },
      },
      plugins: [rsiPanePlugin],
    } as any);

    return () => {
      priceChart.destroy();
      rsiChart.destroy();
    };
  }, []);

  return (
    <div style={{ width: W, height: H_PRICE + H_RSI, background: '#ffffff', overflow: 'hidden' }}>
      <canvas ref={priceRef} width={W} height={H_PRICE} style={{ display: 'block' }} />
      <canvas ref={rsiRef} width={W} height={H_RSI} style={{ display: 'block' }} />
    </div>
  );
}
